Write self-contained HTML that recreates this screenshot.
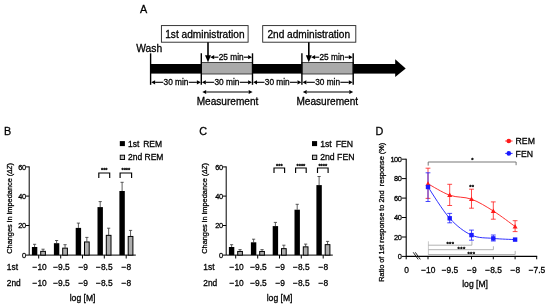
<!DOCTYPE html>
<html><head><meta charset="utf-8"><title>Figure</title>
<style>html,body{margin:0;padding:0;background:#fff;}svg{display:block;}text{font-family:"Liberation Sans",sans-serif;fill:#000;stroke:#000;stroke-width:0.28px;}</style></head><body>
<svg width="550" height="307" viewBox="0 0 550 307">
<rect width="550" height="307" fill="#fff"/>
<g id="panelA">
<text x="140" y="13.1" font-size="10.8">A</text>
<rect x="161.4" y="25.6" width="86.7" height="16.6" fill="#fff" stroke="#222" stroke-width="0.9"/>
<text x="165.2" y="37.8" font-size="10.15">1st administration</text>
<rect x="262.7" y="25.6" width="93.1" height="16.6" fill="#fff" stroke="#222" stroke-width="0.9"/>
<text x="267.4" y="37.8" font-size="10.15">2nd administration</text>
<text x="136.2" y="52" font-size="10.3">Wash</text>
<rect x="150.6" y="64.0" width="246" height="9.6" fill="#000"/>
<polygon points="395.2,59.3 405.7,68.6 395.2,77.0" fill="#000"/>
<rect x="201.4" y="62.4" width="51.1" height="11.6" fill="#aaa" stroke="#222" stroke-width="0.8"/>
<rect x="301.9" y="62.4" width="51.3" height="11.6" fill="#aaa" stroke="#222" stroke-width="0.8"/>
<line x1="150.6" y1="53.3" x2="150.6" y2="84.8" stroke="#000" stroke-width="1.4"/>
<line x1="201.3" y1="53.3" x2="201.3" y2="84.8" stroke="#000" stroke-width="1.4"/>
<line x1="252.5" y1="53.3" x2="252.5" y2="84.8" stroke="#000" stroke-width="1.4"/>
<line x1="301.9" y1="53.3" x2="301.9" y2="84.8" stroke="#000" stroke-width="1.4"/>
<line x1="353.2" y1="53.3" x2="353.2" y2="84.8" stroke="#000" stroke-width="1.4"/>
<line x1="208.0" y1="42.2" x2="208.0" y2="57" stroke="#000" stroke-width="1.6"/>
<polygon points="205.0,55.2 211.0,55.2 208.0,62.3" fill="#000"/>
<line x1="308.8" y1="42.2" x2="308.8" y2="57" stroke="#000" stroke-width="1.6"/>
<polygon points="305.8,55.2 311.8,55.2 308.8,62.3" fill="#000"/>
<polygon points="151.2,82.3 155.1,80.2 155.1,84.39999999999999" fill="#000"/>
<polygon points="200.8,82.3 196.9,80.2 196.9,84.39999999999999" fill="#000"/>
<line x1="155.1" y1="82.3" x2="163.25" y2="82.3" stroke="#000" stroke-width="1.1"/>
<line x1="188.75" y1="82.3" x2="196.9" y2="82.3" stroke="#000" stroke-width="1.1"/>
<text x="176.0" y="85.3" font-size="8.3" text-anchor="middle">30 min</text>
<polygon points="201.9,82.3 205.8,80.2 205.8,84.39999999999999" fill="#000"/>
<polygon points="252.0,82.3 248.1,80.2 248.1,84.39999999999999" fill="#000"/>
<line x1="205.8" y1="82.3" x2="214.2" y2="82.3" stroke="#000" stroke-width="1.1"/>
<line x1="239.7" y1="82.3" x2="248.1" y2="82.3" stroke="#000" stroke-width="1.1"/>
<text x="226.95" y="85.3" font-size="8.3" text-anchor="middle">30 min</text>
<polygon points="253.1,82.3 257.0,80.2 257.0,84.39999999999999" fill="#000"/>
<polygon points="301.4,82.3 297.5,80.2 297.5,84.39999999999999" fill="#000"/>
<line x1="257.0" y1="82.3" x2="264.5" y2="82.3" stroke="#000" stroke-width="1.1"/>
<line x1="290.0" y1="82.3" x2="297.5" y2="82.3" stroke="#000" stroke-width="1.1"/>
<text x="277.25" y="85.3" font-size="8.3" text-anchor="middle">30 min</text>
<polygon points="302.5,82.3 306.4,80.2 306.4,84.39999999999999" fill="#000"/>
<polygon points="352.7,82.3 348.8,80.2 348.8,84.39999999999999" fill="#000"/>
<line x1="306.4" y1="82.3" x2="314.85" y2="82.3" stroke="#000" stroke-width="1.1"/>
<line x1="340.35" y1="82.3" x2="348.8" y2="82.3" stroke="#000" stroke-width="1.1"/>
<text x="327.6" y="85.3" font-size="8.3" text-anchor="middle">30 min</text>
<polygon points="210.3,57.2 214.20000000000002,55.1 214.20000000000002,59.300000000000004" fill="#000"/>
<polygon points="252.0,57.2 248.1,55.1 248.1,59.300000000000004" fill="#000"/>
<line x1="214.20000000000002" y1="57.2" x2="218.4" y2="57.2" stroke="#000" stroke-width="1.1"/>
<line x1="243.9" y1="57.2" x2="248.1" y2="57.2" stroke="#000" stroke-width="1.1"/>
<text x="231.15" y="60.2" font-size="8.3" text-anchor="middle">25 min</text>
<polygon points="311.2,57.2 315.09999999999997,55.1 315.09999999999997,59.300000000000004" fill="#000"/>
<polygon points="352.7,57.2 348.8,55.1 348.8,59.300000000000004" fill="#000"/>
<line x1="315.09999999999997" y1="57.2" x2="319.2" y2="57.2" stroke="#000" stroke-width="1.1"/>
<line x1="344.7" y1="57.2" x2="348.8" y2="57.2" stroke="#000" stroke-width="1.1"/>
<text x="331.95" y="60.2" font-size="8.3" text-anchor="middle">25 min</text>
<polygon points="202.3,92.0 206.20000000000002,89.9 206.20000000000002,94.1" fill="#000"/>
<polygon points="252.6,92.0 248.7,89.9 248.7,94.1" fill="#000"/>
<line x1="206.20000000000002" y1="92.0" x2="248.7" y2="92.0" stroke="#000" stroke-width="1.2"/>
<polygon points="302.8,92.0 306.7,89.9 306.7,94.1" fill="#000"/>
<polygon points="353.2,92.0 349.3,89.9 349.3,94.1" fill="#000"/>
<line x1="306.7" y1="92.0" x2="349.3" y2="92.0" stroke="#000" stroke-width="1.2"/>
<text x="227.5" y="104.6" font-size="10.1" text-anchor="middle">Measurement</text>
<text x="327.3" y="104.6" font-size="10.1" text-anchor="middle">Measurement</text>
</g>
<g id="panelB">
<text x="4.0" y="134.7" font-size="10.8">B</text>
<path d="M29.2 166.4 V255.1 H135.8" fill="none" stroke="#000" stroke-width="1"/>
<line x1="26.0" y1="166.9" x2="29.2" y2="166.9" stroke="#000" stroke-width="1"/>
<text x="25.8" y="169.6" font-size="7.4" text-anchor="end" letter-spacing="-0.35">60</text>
<line x1="26.0" y1="196.1" x2="29.2" y2="196.1" stroke="#000" stroke-width="1"/>
<text x="25.8" y="198.79999999999998" font-size="7.4" text-anchor="end" letter-spacing="-0.35">40</text>
<line x1="26.0" y1="225.5" x2="29.2" y2="225.5" stroke="#000" stroke-width="1"/>
<text x="25.8" y="228.2" font-size="7.4" text-anchor="end" letter-spacing="-0.35">20</text>
<line x1="26.0" y1="255.1" x2="29.2" y2="255.1" stroke="#000" stroke-width="1"/>
<text x="25.8" y="257.8" font-size="7.4" text-anchor="end" letter-spacing="-0.35">0</text>
<line x1="38.7" y1="255.1" x2="38.7" y2="258.5" stroke="#000" stroke-width="1"/>
<path d="M34.60 247 V244.3 M33.00 244.3 H36.20" stroke="#333" stroke-width="0.8" fill="none"/>
<path d="M43.05 251 V249.2 M41.45 249.2 H44.65" stroke="#333" stroke-width="0.8" fill="none"/>
<rect x="31.90" y="247" width="5.4" height="8.10" fill="#000"/>
<rect x="40.70" y="251.35" width="4.7" height="3.75" fill="#adadad" stroke="#000" stroke-width="1"/>
<line x1="60.7" y1="255.1" x2="60.7" y2="258.5" stroke="#000" stroke-width="1"/>
<path d="M56.60 243.2 V240.5 M55.00 240.5 H58.20" stroke="#333" stroke-width="0.8" fill="none"/>
<path d="M65.05 247.8 V244.7 M63.45 244.7 H66.65" stroke="#333" stroke-width="0.8" fill="none"/>
<rect x="53.90" y="243.2" width="5.4" height="11.90" fill="#000"/>
<rect x="62.70" y="248.15" width="4.7" height="6.95" fill="#adadad" stroke="#000" stroke-width="1"/>
<line x1="82.5" y1="255.1" x2="82.5" y2="258.5" stroke="#000" stroke-width="1"/>
<path d="M78.40 227.9 V223.1 M76.80 223.1 H80.00" stroke="#333" stroke-width="0.8" fill="none"/>
<path d="M86.85 241.6 V237.4 M85.25 237.4 H88.45" stroke="#333" stroke-width="0.8" fill="none"/>
<rect x="75.70" y="227.9" width="5.4" height="27.20" fill="#000"/>
<rect x="84.50" y="241.95" width="4.7" height="13.15" fill="#adadad" stroke="#000" stroke-width="1"/>
<line x1="104.3" y1="255.1" x2="104.3" y2="258.5" stroke="#000" stroke-width="1"/>
<path d="M100.20 207.1 V201.6 M98.60 201.6 H101.80" stroke="#333" stroke-width="0.8" fill="none"/>
<path d="M108.65 235.0 V228.2 M107.05 228.2 H110.25" stroke="#333" stroke-width="0.8" fill="none"/>
<rect x="97.50" y="207.1" width="5.4" height="48.00" fill="#000"/>
<rect x="106.30" y="235.35" width="4.7" height="19.75" fill="#adadad" stroke="#000" stroke-width="1"/>
<line x1="126.2" y1="255.1" x2="126.2" y2="258.5" stroke="#000" stroke-width="1"/>
<path d="M122.10 191.0 V182.3 M120.50 182.3 H123.70" stroke="#333" stroke-width="0.8" fill="none"/>
<path d="M130.55 236.1 V230.4 M128.95 230.4 H132.15" stroke="#333" stroke-width="0.8" fill="none"/>
<rect x="119.40" y="191.0" width="5.4" height="64.10" fill="#000"/>
<rect x="128.20" y="236.45" width="4.7" height="18.65" fill="#adadad" stroke="#000" stroke-width="1"/>
<path d="M98.8 178.1 V173.0 H109.7 V178.1" fill="none" stroke="#000" stroke-width="1.15"/>
<text x="104.25" y="172.0" font-size="5.6" text-anchor="middle" font-weight="bold" stroke-width="0.1">***</text>
<path d="M120.1 178.1 V173.0 H131.6 V178.1" fill="none" stroke="#000" stroke-width="1.15"/>
<text x="125.85" y="172.0" font-size="5.6" text-anchor="middle" font-weight="bold" stroke-width="0.1">****</text>
<rect x="119.8" y="141.1" width="5.1" height="5" fill="#000"/>
<rect x="120.25" y="155.2" width="4.3" height="4.3" fill="#bbb" stroke="#000" stroke-width="0.95"/>
<text x="128.0" y="146.6" font-size="8.5">1st <tspan dx="1.5">REM</tspan></text>
<text x="128.0" y="160.1" font-size="8.5">2nd REM</text>
<text x="39.6" y="270.1" font-size="8.4" text-anchor="middle">−10</text>
<text x="61.4" y="270.1" font-size="8.4" text-anchor="middle">−9.5</text>
<text x="83.2" y="270.1" font-size="8.4" text-anchor="middle">−9</text>
<text x="104.3" y="270.1" font-size="8.4" text-anchor="middle">−8.5</text>
<text x="126.4" y="270.1" font-size="8.4" text-anchor="middle">−8</text>
<text x="39.6" y="285.9" font-size="8.4" text-anchor="middle">−10</text>
<text x="61.4" y="285.9" font-size="8.4" text-anchor="middle">−9.5</text>
<text x="83.2" y="285.9" font-size="8.4" text-anchor="middle">−9</text>
<text x="104.3" y="285.9" font-size="8.4" text-anchor="middle">−8.5</text>
<text x="126.4" y="285.9" font-size="8.4" text-anchor="middle">−8</text>
<text x="6.8" y="270.1" font-size="8.4">1st</text>
<text x="6.8" y="285.9" font-size="8.4">2nd</text>
<text x="82.6" y="301.0" font-size="8.6" text-anchor="middle">log [M]</text>
<text transform="translate(11.5 253.8) rotate(-90)" font-size="7.4" textLength="90.8" lengthAdjust="spacingAndGlyphs">Changes in impedance (<tspan font-style="italic" font-size="6.4">ΔZ</tspan>)</text>
</g>
<g id="panelC">
<text x="199.3" y="134.7" font-size="10.8">C</text>
<path d="M226.2 166.4 V255.1 H332.8" fill="none" stroke="#000" stroke-width="1"/>
<line x1="223.0" y1="166.9" x2="226.2" y2="166.9" stroke="#000" stroke-width="1"/>
<text x="222.79999999999998" y="169.6" font-size="7.4" text-anchor="end" letter-spacing="-0.35">60</text>
<line x1="223.0" y1="196.1" x2="226.2" y2="196.1" stroke="#000" stroke-width="1"/>
<text x="222.79999999999998" y="198.79999999999998" font-size="7.4" text-anchor="end" letter-spacing="-0.35">40</text>
<line x1="223.0" y1="225.5" x2="226.2" y2="225.5" stroke="#000" stroke-width="1"/>
<text x="222.79999999999998" y="228.2" font-size="7.4" text-anchor="end" letter-spacing="-0.35">20</text>
<line x1="223.0" y1="255.1" x2="226.2" y2="255.1" stroke="#000" stroke-width="1"/>
<text x="222.79999999999998" y="257.8" font-size="7.4" text-anchor="end" letter-spacing="-0.35">0</text>
<line x1="235.7" y1="255.1" x2="235.7" y2="258.5" stroke="#000" stroke-width="1"/>
<path d="M231.60 247 V244.7 M230.00 244.7 H233.20" stroke="#333" stroke-width="0.8" fill="none"/>
<path d="M240.05 251.1 V249.6 M238.45 249.6 H241.65" stroke="#333" stroke-width="0.8" fill="none"/>
<rect x="228.90" y="247" width="5.4" height="8.10" fill="#000"/>
<rect x="237.70" y="251.45" width="4.7" height="3.65" fill="#adadad" stroke="#000" stroke-width="1"/>
<line x1="257.7" y1="255.1" x2="257.7" y2="258.5" stroke="#000" stroke-width="1"/>
<path d="M253.60 242.3 V239.2 M252.00 239.2 H255.20" stroke="#333" stroke-width="0.8" fill="none"/>
<path d="M262.05 251.1 V249.6 M260.45 249.6 H263.65" stroke="#333" stroke-width="0.8" fill="none"/>
<rect x="250.90" y="242.3" width="5.4" height="12.80" fill="#000"/>
<rect x="259.70" y="251.45" width="4.7" height="3.65" fill="#adadad" stroke="#000" stroke-width="1"/>
<line x1="279.5" y1="255.1" x2="279.5" y2="258.5" stroke="#000" stroke-width="1"/>
<path d="M275.40 226.1 V222.4 M273.80 222.4 H277.00" stroke="#333" stroke-width="0.8" fill="none"/>
<path d="M283.85 248.3 V245.2 M282.25 245.2 H285.45" stroke="#333" stroke-width="0.8" fill="none"/>
<rect x="272.70" y="226.1" width="5.4" height="29.00" fill="#000"/>
<rect x="281.50" y="248.65" width="4.7" height="6.45" fill="#adadad" stroke="#000" stroke-width="1"/>
<line x1="301.3" y1="255.1" x2="301.3" y2="258.5" stroke="#000" stroke-width="1"/>
<path d="M297.20 209.7 V204.3 M295.60 204.3 H298.80" stroke="#333" stroke-width="0.8" fill="none"/>
<path d="M305.65 246.5 V244.1 M304.05 244.1 H307.25" stroke="#333" stroke-width="0.8" fill="none"/>
<rect x="294.50" y="209.7" width="5.4" height="45.40" fill="#000"/>
<rect x="303.30" y="246.85" width="4.7" height="8.25" fill="#adadad" stroke="#000" stroke-width="1"/>
<line x1="323.2" y1="255.1" x2="323.2" y2="258.5" stroke="#000" stroke-width="1"/>
<path d="M319.10 185.1 V176.5 M317.50 176.5 H320.70" stroke="#333" stroke-width="0.8" fill="none"/>
<path d="M327.55 244.3 V241.4 M325.95 241.4 H329.15" stroke="#333" stroke-width="0.8" fill="none"/>
<rect x="316.40" y="185.1" width="5.4" height="70.00" fill="#000"/>
<rect x="325.20" y="244.65" width="4.7" height="10.45" fill="#adadad" stroke="#000" stroke-width="1"/>
<path d="M274.0 173.1 V168.0 H284.6 V173.1" fill="none" stroke="#000" stroke-width="1.15"/>
<text x="279.30" y="168.2" font-size="5.6" text-anchor="middle" font-weight="bold" stroke-width="0.1">***</text>
<path d="M295.6 173.1 V168.0 H306.2 V173.1" fill="none" stroke="#000" stroke-width="1.15"/>
<text x="300.90" y="168.2" font-size="5.6" text-anchor="middle" font-weight="bold" stroke-width="0.1">****</text>
<path d="M317.5 173.1 V168.0 H328.1 V173.1" fill="none" stroke="#000" stroke-width="1.15"/>
<text x="322.80" y="168.2" font-size="5.6" text-anchor="middle" font-weight="bold" stroke-width="0.1">****</text>
<rect x="312.0" y="141.1" width="5.1" height="5" fill="#000"/>
<rect x="312.45" y="155.2" width="4.3" height="4.3" fill="#bbb" stroke="#000" stroke-width="0.95"/>
<text x="320.2" y="146.6" font-size="8.7">1st <tspan dx="1.5">FEN</tspan></text>
<text x="320.2" y="160.1" font-size="8.7">2nd FEN</text>
<text x="236.6" y="270.1" font-size="8.4" text-anchor="middle">−10</text>
<text x="258.4" y="270.1" font-size="8.4" text-anchor="middle">−9.5</text>
<text x="280.2" y="270.1" font-size="8.4" text-anchor="middle">−9</text>
<text x="301.3" y="270.1" font-size="8.4" text-anchor="middle">−8.5</text>
<text x="323.4" y="270.1" font-size="8.4" text-anchor="middle">−8</text>
<text x="236.6" y="285.9" font-size="8.4" text-anchor="middle">−10</text>
<text x="258.4" y="285.9" font-size="8.4" text-anchor="middle">−9.5</text>
<text x="280.2" y="285.9" font-size="8.4" text-anchor="middle">−9</text>
<text x="301.3" y="285.9" font-size="8.4" text-anchor="middle">−8.5</text>
<text x="323.4" y="285.9" font-size="8.4" text-anchor="middle">−8</text>
<text x="203.3" y="270.1" font-size="8.4">1st</text>
<text x="203.3" y="285.9" font-size="8.4">2nd</text>
<text x="279.6" y="301.0" font-size="8.6" text-anchor="middle">log [M]</text>
<text transform="translate(207.4 253.8) rotate(-90)" font-size="7.4" textLength="90.8" lengthAdjust="spacingAndGlyphs">Changes in impedance (<tspan font-style="italic" font-size="6.4">ΔZ</tspan>)</text>
</g>
<g id="panelD">
<text x="375.4" y="134.7" font-size="10.8">D</text>
<path d="M406.2 158.7 V256.4 H537.2" fill="none" stroke="#000" stroke-width="1.1"/>
<line x1="402.0" y1="256.4" x2="406.2" y2="256.4" stroke="#000" stroke-width="1"/>
<text x="401.4" y="259.1" font-size="7.4" text-anchor="end" letter-spacing="-0.45">0</text>
<line x1="402.0" y1="237.0" x2="406.2" y2="237.0" stroke="#000" stroke-width="1"/>
<text x="401.4" y="239.7" font-size="7.4" text-anchor="end" letter-spacing="-0.45">20</text>
<line x1="402.0" y1="217.5" x2="406.2" y2="217.5" stroke="#000" stroke-width="1"/>
<text x="401.4" y="220.2" font-size="7.4" text-anchor="end" letter-spacing="-0.45">40</text>
<line x1="402.0" y1="198.1" x2="406.2" y2="198.1" stroke="#000" stroke-width="1"/>
<text x="401.4" y="200.8" font-size="7.4" text-anchor="end" letter-spacing="-0.45">60</text>
<line x1="402.0" y1="178.6" x2="406.2" y2="178.6" stroke="#000" stroke-width="1"/>
<text x="401.4" y="181.3" font-size="7.4" text-anchor="end" letter-spacing="-0.45">80</text>
<line x1="402.0" y1="159.2" x2="406.2" y2="159.2" stroke="#000" stroke-width="1"/>
<text x="401.4" y="161.9" font-size="7.4" text-anchor="end" letter-spacing="-0.45">100</text>
<line x1="406.2" y1="256.4" x2="406.2" y2="259.3" stroke="#000" stroke-width="1"/>
<text x="406.5" y="272.5" font-size="8.4" text-anchor="middle">0</text>
<line x1="428.0" y1="256.4" x2="428.0" y2="259.3" stroke="#000" stroke-width="1"/>
<text x="428.3" y="272.5" font-size="8.4" text-anchor="middle">−10</text>
<line x1="449.7" y1="256.4" x2="449.7" y2="259.3" stroke="#000" stroke-width="1"/>
<text x="450.0" y="272.5" font-size="8.4" text-anchor="middle">−9.5</text>
<line x1="471.5" y1="256.4" x2="471.5" y2="259.3" stroke="#000" stroke-width="1"/>
<text x="471.8" y="272.5" font-size="8.4" text-anchor="middle">−9</text>
<line x1="493.3" y1="256.4" x2="493.3" y2="259.3" stroke="#000" stroke-width="1"/>
<text x="493.6" y="272.5" font-size="8.4" text-anchor="middle">−8.5</text>
<line x1="515.1" y1="256.4" x2="515.1" y2="259.3" stroke="#000" stroke-width="1"/>
<text x="515.4" y="272.5" font-size="8.4" text-anchor="middle">−8</text>
<line x1="536.7" y1="256.4" x2="536.7" y2="259.3" stroke="#000" stroke-width="1"/>
<text x="537.0" y="272.5" font-size="8.4" text-anchor="middle">−7.5</text>
<path d="M413.2 252.3 L418.2 259.4 M415.3 252.3 L420.3 259.4" stroke="#111" stroke-width="0.9" fill="none"/>
<text x="475.1" y="287.0" font-size="8.6" text-anchor="middle">log [M]</text>
<text transform="translate(383.5 281.8) rotate(-90)" font-size="7.5" textLength="139" lengthAdjust="spacingAndGlyphs" xml:space="preserve">Ratio of 1st response to 2nd  response (%)</text>
<path d="M428.2 165.6 V162 H516.1 V165.2" fill="none" stroke="#707070" stroke-width="0.95"/>
<path d="M428.4 241.3 V255.6" fill="none" stroke="#bbb" stroke-width="0.8"/>
<path d="M428.4 245.2 H471.9 V241.2" fill="none" stroke="#999" stroke-width="0.75"/>
<path d="M428.4 249.7 H493.4 V246.3" fill="none" stroke="#999" stroke-width="0.75"/>
<path d="M428.4 254.5 H515.2 V250.9" fill="none" stroke="#999" stroke-width="0.75"/>
<text x="472.5" y="162.4" font-size="5.8" text-anchor="middle" font-weight="bold" stroke="none" letter-spacing="0.4">*</text>
<text x="471.8" y="188.5" font-size="5.8" text-anchor="middle" font-weight="bold" stroke="none" letter-spacing="0.4">**</text>
<text x="450.4" y="245.9" font-size="5.8" text-anchor="middle" font-weight="bold" stroke="none" letter-spacing="0.4">***</text>
<text x="461.59999999999997" y="250.9" font-size="5.8" text-anchor="middle" font-weight="bold" stroke="none" letter-spacing="0.4">***</text>
<text x="471.4" y="255.50000000000003" font-size="5.8" text-anchor="middle" font-weight="bold" stroke="none" letter-spacing="0.4">***</text>
<path d="M428.00 183.80 C431.62 185.70 442.45 192.63 449.70 195.20 C456.95 197.77 464.23 196.57 471.50 199.20 C478.77 201.83 486.03 206.45 493.30 211.00 C500.57 215.55 511.47 223.92 515.10 226.50" fill="none" stroke="#ff1a1a" stroke-width="0.9"/>
<path d="M428.00 187.00 C431.62 192.22 442.45 210.28 449.70 218.30 C456.95 226.32 464.23 231.75 471.50 235.10 C478.77 238.45 486.03 237.65 493.30 238.40 C500.57 239.15 511.47 239.40 515.10 239.60" fill="none" stroke="#1a1aff" stroke-width="0.9"/>
<path d="M428.0 168.2 V198.4 M425.6 168.2 H430.4 M425.6 198.4 H430.4" stroke="#ff1a1a" stroke-width="0.8" fill="none"/>
<path d="M449.7 184.3 V205.5 M447.3 184.3 H452.09999999999997 M447.3 205.5 H452.09999999999997" stroke="#ff1a1a" stroke-width="0.8" fill="none"/>
<path d="M471.5 189.2 V208.2 M469.1 189.2 H473.9 M469.1 208.2 H473.9" stroke="#ff1a1a" stroke-width="0.8" fill="none"/>
<path d="M493.3 201.9 V219.2 M490.90000000000003 201.9 H495.7 M490.90000000000003 219.2 H495.7" stroke="#ff1a1a" stroke-width="0.8" fill="none"/>
<path d="M515.1 220.7 V231.6 M512.7 220.7 H517.5 M512.7 231.6 H517.5" stroke="#ff1a1a" stroke-width="0.8" fill="none"/>
<path d="M428.0 172.8 V201.5 M425.6 172.8 H430.4 M425.6 201.5 H430.4" stroke="#1a1aff" stroke-width="0.8" fill="none"/>
<path d="M449.7 213.4 V222.8 M447.3 213.4 H452.09999999999997 M447.3 222.8 H452.09999999999997" stroke="#1a1aff" stroke-width="0.8" fill="none"/>
<path d="M471.5 230.1 V240.2 M469.1 230.1 H473.9 M469.1 240.2 H473.9" stroke="#1a1aff" stroke-width="0.8" fill="none"/>
<path d="M493.3 235.0 V241.0 M490.90000000000003 235.0 H495.7 M490.90000000000003 241.0 H495.7" stroke="#1a1aff" stroke-width="0.8" fill="none"/>
<polygon points="428.0,181.20000000000002 430.5,185.70000000000002 425.5,185.70000000000002" fill="#ff1a1a"/>
<polygon points="449.7,192.6 452.2,197.1 447.2,197.1" fill="#ff1a1a"/>
<polygon points="471.5,196.6 474.0,201.1 469.0,201.1" fill="#ff1a1a"/>
<polygon points="493.3,208.4 495.8,212.9 490.8,212.9" fill="#ff1a1a"/>
<polygon points="515.1,223.9 517.6,228.4 512.6,228.4" fill="#ff1a1a"/>
<rect x="425.8" y="184.8" width="4.4" height="4.4" fill="#1a1aff"/>
<rect x="447.5" y="216.10000000000002" width="4.4" height="4.4" fill="#1a1aff"/>
<rect x="469.3" y="232.9" width="4.4" height="4.4" fill="#1a1aff"/>
<rect x="491.1" y="236.20000000000002" width="4.4" height="4.4" fill="#1a1aff"/>
<rect x="512.9" y="237.4" width="4.4" height="4.4" fill="#1a1aff"/>
<line x1="505.2" y1="141.0" x2="512.6" y2="141.0" stroke="#ff1a1a" stroke-width="0.9"/>
<circle cx="508.8" cy="141.0" r="2.3" fill="#ff1a1a"/>
<text x="515.6" y="144.2" font-size="8.7">REM</text>
<line x1="505.2" y1="153.4" x2="512.6" y2="153.4" stroke="#1a1aff" stroke-width="0.9"/>
<circle cx="508.8" cy="153.4" r="2.3" fill="#1a1aff"/>
<text x="515.6" y="156.6" font-size="8.7">FEN</text>
</g>
</svg></body></html>
